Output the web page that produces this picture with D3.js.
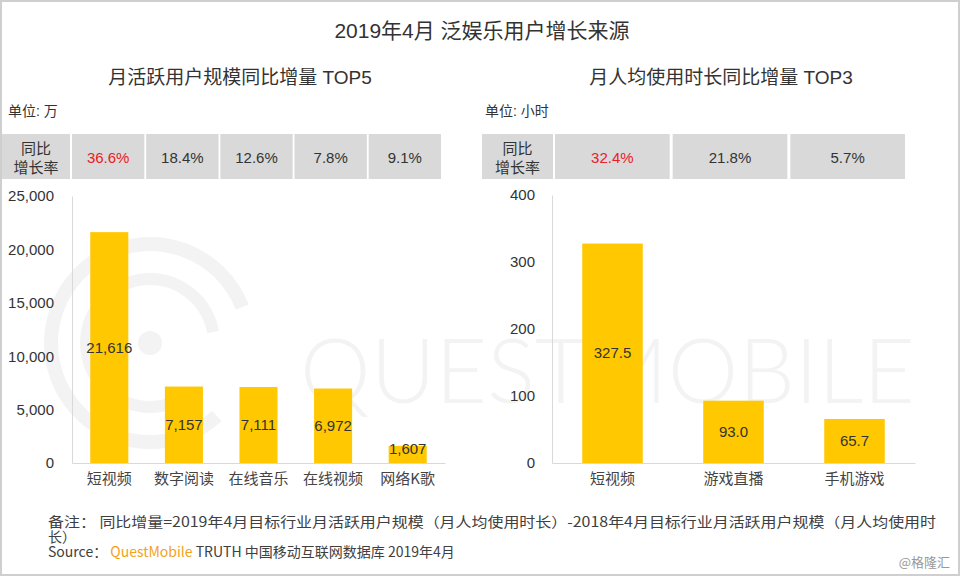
<!DOCTYPE html>
<html>
<head>
<meta charset="utf-8">
<script src="https://cdn.jsdelivr.net/npm/d3@7"></script>
<style>
  body { margin: 0; background: #fff; }
  svg { display: block; font-family: "Liberation Sans", "Noto Sans CJK SC", sans-serif; }
</style>
</head>
<body>
<svg id="chart" width="960" height="576"></svg>
<script>
// left chart: monthly active users YoY increase (万)
var mauCats = ["短视频", "数字阅读", "在线音乐", "在线视频", "网络K歌"];
var mauValues = [21616, 7157, 7111, 6972, 1607];
var mauRates = ["36.6%", "18.4%", "12.6%", "7.8%", "9.1%"];
var mauTicks = [0, 5000, 10000, 15000, 20000, 25000];

// right chart: per-user monthly time YoY increase (小时)
var timeCats = ["短视频", "游戏直播", "手机游戏"];
var timeValues = [327.5, 93.0, 65.7];
var timeRates = ["32.4%", "21.8%", "5.7%"];
var timeTicks = [0, 100, 200, 300, 400];

var svg = d3.select("#chart");
var barColor = "#ffc800";
var textColor = "#333";

// outer border
svg.append("rect").attr("x", 1).attr("y", 1).attr("width", 958).attr("height", 574)
  .attr("fill", "#fff").attr("stroke", "#cfcfcf").attr("stroke-width", 2);

// watermark
var wm = svg.append("g").attr("fill", "#f3f3f3");
wm.append("path").attr("transform", "translate(150,343)")
  .attr("d", d3.arc()({innerRadius: 92, outerRadius: 106, startAngle: 2.4, endAngle: 2 * Math.PI + 1.2}));
wm.append("path").attr("transform", "translate(150,343)")
  .attr("d", d3.arc()({innerRadius: 58, outerRadius: 70, startAngle: 2.6, endAngle: 2 * Math.PI + 1.4}));
wm.append("circle").attr("cx", 150).attr("cy", 343).attr("r", 12);
wm.append("text").attr("x", 300).attr("y", 403).attr("font-size", 90)
  .attr("font-family", "Lato, sans-serif").attr("font-weight", 300)
  .attr("textLength", 615).attr("lengthAdjust", "spacingAndGlyphs").text("QUESTMOBILE");

// titles
svg.append("text").attr("x", 482).attr("y", 38).attr("text-anchor", "middle")
  .attr("font-size", 21).attr("fill", textColor).text("2019年4月 泛娱乐用户增长来源");

function drawPanel(opt) {
  var g = svg.append("g");
  g.append("text").attr("x", opt.titleX).attr("y", 84).attr("text-anchor", "middle")
    .attr("font-size", 19).attr("fill", textColor).text(opt.title);
  g.append("text").attr("x", opt.unitX).attr("y", 116)
    .attr("font-size", 14).attr("fill", textColor).text(opt.unit);

  // rate table
  g.append("rect").attr("x", opt.headX0).attr("y", 134).attr("width", opt.headX1 - opt.headX0)
    .attr("height", 45).attr("fill", "#d9d9d9");
  var head = g.append("text").attr("text-anchor", "middle").attr("font-size", 15)
    .attr("fill", textColor).attr("font-family", "Noto Sans CJK SC");
  head.append("tspan").attr("x", (opt.headX0 + opt.headX1) / 2).attr("y", 154).text("同比");
  head.append("tspan").attr("x", (opt.headX0 + opt.headX1) / 2).attr("y", 173).text("增长率");

  var tx = d3.scaleBand().domain(opt.cats).range(opt.tableRange).paddingInner(0.025).paddingOuter(0);
  g.selectAll(".cell").data(opt.cats).join("rect")
    .attr("x", function(d) { return tx(d); }).attr("y", 134)
    .attr("width", tx.bandwidth()).attr("height", 45).attr("fill", "#d9d9d9");
  g.selectAll(".rate").data(opt.rates).join("text")
    .attr("x", function(d, i) { return tx(opt.cats[i]) + tx.bandwidth() / 2; })
    .attr("y", 163).attr("text-anchor", "middle").attr("font-size", 15)
    .attr("fill", function(d, i) { return i == 0 ? "#e8202a" : textColor; })
    .text(function(d) { return d; });

  // bars
  var x = d3.scaleBand().domain(opt.cats).range(opt.plotRange)
    .paddingInner(opt.pad).paddingOuter(opt.pad / 2);
  var y = d3.scaleLinear().domain([0, opt.max]).range([463, opt.top]);

  var yAxis = g.append("g").attr("transform", "translate(" + opt.plotRange[0] + ",0)")
    .call(d3.axisLeft(y).tickValues(opt.ticks).tickSize(0).tickPadding(opt.tickPad)
      .tickFormat(d3.format(",")));
  yAxis.select(".domain").attr("stroke", "#d9d9d9");
  yAxis.selectAll("text").attr("font-size", 15).attr("fill", textColor)
    .attr("font-family", "Liberation Sans");

  var xAxis = g.append("g").attr("transform", "translate(0,463)")
    .call(d3.axisBottom(x).tickSize(0).tickPadding(10).tickSizeOuter(0));
  xAxis.select(".domain").attr("stroke", "#d9d9d9");
  xAxis.selectAll("text").attr("font-size", 15).attr("fill", "#444")
    .attr("font-family", "Noto Sans CJK SC");

  g.selectAll(".bar").data(opt.values).join("rect")
    .attr("x", function(d, i) { return x(opt.cats[i]); })
    .attr("y", function(d) { return y(d); })
    .attr("width", x.bandwidth())
    .attr("height", function(d) { return 463 - y(d); })
    .attr("fill", barColor);

  g.selectAll(".lbl").data(opt.values).join("text")
    .attr("x", function(d, i) { return x(opt.cats[i]) + x.bandwidth() / 2; })
    .attr("y", function(d) { return Math.min((y(d) + 463) / 2, 449) + 5; })
    .attr("text-anchor", "middle").attr("font-size", 15).attr("fill", textColor)
    .text(function(d) { return opt.fmt(d); });
}

drawPanel({
  title: "月活跃用户规模同比增量 TOP5", titleX: 240, unit: "单位: 万", unitX: 8,
  cats: mauCats, values: mauValues, rates: mauRates, ticks: mauTicks,
  headX0: 2, headX1: 70, tableRange: [72, 441],
  plotRange: [72, 445], pad: 0.49, max: 25000, top: 196, tickPad: 18,
  fmt: d3.format(",")
});

drawPanel({
  title: "月人均使用时长同比增量 TOP3", titleX: 721, unit: "单位: 小时", unitX: 485,
  cats: timeCats, values: timeValues, rates: timeRates, ticks: timeTicks,
  headX0: 482, headX1: 553, tableRange: [555, 905],
  plotRange: [552, 915], pad: 0.5, max: 400, top: 195, tickPad: 17,
  fmt: d3.format(".1f")
});

// footnotes
var note = svg.append("g").attr("font-size", 14).attr("fill", "#404040")
  .attr("font-family", "Noto Sans CJK SC");
note.append("text").attr("x", 48).attr("y", 527).attr("textLength", 888).attr("lengthAdjust", "spacingAndGlyphs")
  .text("备注： 同比增量=2019年4月目标行业月活跃用户规模（月人均使用时长）-2018年4月目标行业月活跃用户规模（月人均使用时");
note.append("text").attr("x", 48).attr("y", 542).text("长）");
var src = note.append("text").attr("x", 48).attr("y", 557);
src.append("tspan").text("Source： ");
src.append("tspan").attr("fill", "#f2a31b").text("QuestMobile");
src.append("tspan").text(" TRUTH 中国移动互联网数据库 2019年4月");

svg.append("text").attr("x", 950).attr("y", 567).attr("text-anchor", "end")
  .attr("font-size", 13).attr("fill", "#999").attr("font-family", "Noto Sans CJK SC").text("@格隆汇");
</script>
</body>
</html>
